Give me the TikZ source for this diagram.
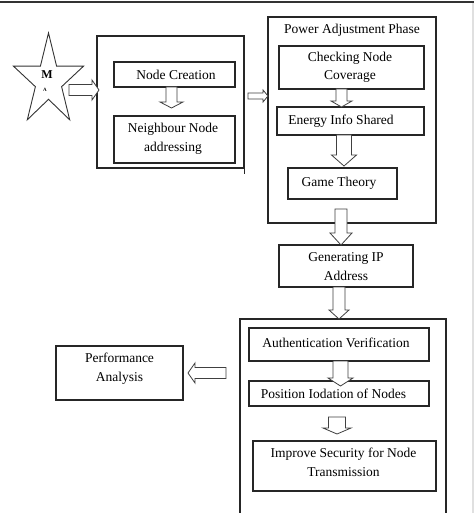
\documentclass[tikz,border=0pt]{standalone}
\usepackage{fontspec}
\setmainfont{Liberation Serif}
\newcommand{\varr}[6]{% x, ytop, ytip, shaft hw, head hw, head base y
  \draw[barrow] (#1-#4,#2) -- (#1-#4,#6) -- (#1-#5,#6) -- (#1,#3) -- (#1+#5,#6) -- (#1+#4,#6) -- (#1+#4,#2) -- cycle;}
\newcommand{\harr}[6]{% y, xstart, xtip, shaft hw, head hw, head base x
  \draw[barrow] (#2,#1-#4) -- (#6,#1-#4) -- (#6,#1-#5) -- (#3,#1) -- (#6,#1+#5) -- (#6,#1+#4) -- (#2,#1+#4) -- cycle;}
\begin{document}
\begin{tikzpicture}[x=1pt,y=-1pt,
  box/.style={draw=black!85, line width=1.1pt, inner sep=0pt, align=center},
  frame/.style={draw=black!85, line width=1.1pt},
  lbl/.style={font=\fontsize{13.5}{18.5}\selectfont, align=center, inner sep=0pt},
  barrow/.style={draw=black!75, line width=0.8pt, fill=white, line join=miter}]
\useasboundingbox (0,0) rectangle (474,513);
\fill[white] (0,0) rectangle (474,513);
% outer frame bits
\draw[black!80, line width=1.4pt] (0,2) -- (474,2);
\fill[black!12] (471.5,3) rectangle (474,513);

% star
\draw[black!80, line width=0.9pt, line join=miter] (48.5,33) -- (56.6,66.2) -- (83.5,66.2) -- (61.6,86.7) -- (69.7,119.8) -- (48.5,99.3) -- (27.3,119.8) -- (35.4,86.7) -- (13.5,66.2) -- (40.4,66.2) -- cycle;
\node[lbl, font=\fontsize{12}{12}\selectfont\bfseries] (m) at (47,75) {M};
\node[lbl, font=\fontsize{5}{5}\selectfont\bfseries] (ma) at (45,90) {A};

% box 1
\node[box, minimum width=147pt, minimum height=132pt] (b1) at (170.5,102) {};
\draw[black!85, line width=1.8pt] (b1.north west) -- (b1.south west);
\draw[black!85, line width=1pt] (b1.south east) -- ++(0,5);
\node[box, minimum width=121pt, minimum height=25pt] (nc) at (174.5,74.5) {};
\node[lbl] (nct) at (176,75) {Node Creation};
\node[box, minimum width=121pt, minimum height=47pt] (nn) at (174.5,139.5) {};
\node[lbl] (nnt) at (173,139) {Neighbour Node\\addressing};

% box 2
\node[box, minimum width=168pt, minimum height=206pt] (b2) at (352,120) {};
\node[lbl] (b2t) at (352,30) {Power Adjustment Phase};
\node[box, minimum width=145pt, minimum height=43pt] (cn) at (351.5,67.5) {};
\node[lbl] (cnt) at (350,67.5) {Checking Node\\Coverage};
\node[box, minimum width=147pt, minimum height=28pt] (es) at (350.5,121) {};
\node[lbl] (est) at (341,121) {Energy Info Shared};
\node[box, minimum width=109pt, minimum height=31pt] (gt) at (342.5,183.5) {};
\node[lbl] (gtt) at (339,183) {Game Theory};

% generating IP
\node[box, minimum width=134pt, minimum height=42pt] (ip) at (346,266) {};
\node[lbl] (ipt) at (346,266.5) {Generating IP\\Address};

% box 3 (open at bottom)
\draw[frame] (240,513) -- (240,319) -- (446,319) -- (446,513);
\coordinate (b3) at (343,319);
\node[box, minimum width=180pt, minimum height=33pt] (av) at (339,344.5) {};
\node[lbl] (avt) at (336,343) {Authentication Verification};
\node[box, minimum width=180pt, minimum height=25pt] (pi) at (339,393.5) {};
\node[lbl] (pit) at (333.5,394) {Position Iodation of Nodes};
\node[box, minimum width=183pt, minimum height=50pt] (is) at (344.5,466) {};
\node[lbl] (ist) at (343.5,462.5) {Improve Security for Node\\Transmission};

% performance
\node[box, minimum width=127pt, minimum height=54pt] (pa) at (119.5,373) {};
\node[lbl] (pat) at (119.5,368.5) {Performance\\Analysis};

% block arrows
\harr{90}{69}{99}{5.5}{10}{92}
\varr{171.5}{87}{108}{5.5}{11.5}{102}
\harr{96}{248}{268}{3}{6}{263}
\varr{341.5}{89}{107}{5.5}{10.5}{101}
\varr{344}{135}{166}{7.5}{12.5}{155}
\varr{341}{209}{245}{6}{11}{233}
\varr{339}{287}{319}{6}{10}{310}
\varr{340.5}{361}{386}{7.5}{12.5}{378}
\varr{337}{417}{434}{8.5}{14}{428}
\harr{373}{226}{188}{5.5}{10}{195}
\end{tikzpicture}
\end{document}
